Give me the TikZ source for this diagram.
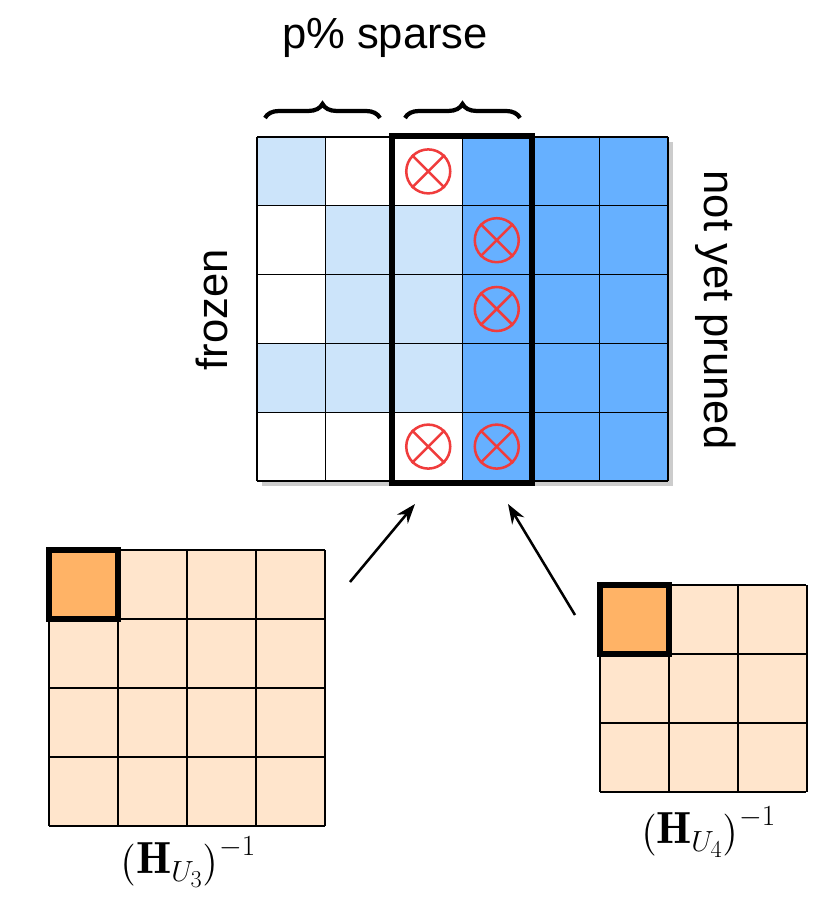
\documentclass[tikz,border=0pt]{standalone}
\usepackage{amsmath}
\usepackage{fontspec}
\newfontfamily\labelsans{Liberation Sans}
\usetikzlibrary{positioning, arrows.meta, decorations.pathreplacing}
\definecolor{L}{HTML}{CCE4FA}
\definecolor{W}{HTML}{FFFFFF}
\definecolor{D}{HTML}{66B0FF}
\definecolor{lightorange}{HTML}{FFE5CC}
\definecolor{darkorange}{HTML}{FFB366}
\definecolor{crossred}{HTML}{F03C3C}
\newlength{\pxu}\setlength{\pxu}{0.025cm}
\tikzset{
  cellline/.style={draw=black, line width=0.8pt},
  frame/.style={draw=black, line width=4.5pt},
  crossmark/.style={circle, draw=crossred, line width=1.8pt, minimum size=44\pxu, inner sep=0pt},
  bracelabel/.style={decorate, decoration={brace, amplitude=10pt}, line width=3pt},
  bigtext/.style={font=\labelsans\fontsize{31}{36}\selectfont},
  mathtext/.style={font=\fontsize{32}{38}\selectfont},
}
\begin{document}
\begin{tikzpicture}[x=0.025cm, y=-0.025cm]
  \useasboundingbox (0,0) rectangle (840,919);
  % main matrix: 6 x 5 cells
  \fill[gray!40] (262,142) rectangle (673,486);
  \foreach \r/\row in {0/{L,W,W,D,D,D},1/{W,L,L,D,D,D},2/{W,L,L,D,D,D},3/{L,L,L,D,D,D},4/{W,W,W,D,D,D}} {
    \foreach \c [count=\i from 0] in \row {
      \fill[\c] (257+68.5*\i,137+68.8*\r) rectangle ++(68.5,68.8);
    }
  }
  \foreach \i in {0,...,6} \draw[cellline] (257+68.5*\i,137) -- (257+68.5*\i,481);
  \foreach \r in {0,...,5} \draw[cellline] (257,137+68.8*\r) -- (668,137+68.8*\r);
  \draw[frame] (392,136) rectangle (532,483);
  % pruned weights
  \foreach \cx/\cy in {0/0,1/1,1/2,0/4,1/4} {
    \node[crossmark] (x\cx\cy) at (428.25+68.5*\cx,171.4+68.8*\cy) {};
    \draw[crossred, line width=1.8pt] (x\cx\cy.45) -- (x\cx\cy.225) (x\cx\cy.135) -- (x\cx\cy.315);
  }
  % braces and labels
  \draw[bracelabel] (265,118) -- (380,118);
  \draw[bracelabel] (405,118) -- (520,118);
  \node[bigtext] (sparse) at (385,38) {p\% sparse};
  \node[bigtext, rotate=90] (frozen) at (212,310) {frozen};
  \node[bigtext, rotate=-90] (notyet) at (716,310) {not yet pruned};
  \coordinate (colA) at (415,504);
  \coordinate (colB) at (508,504);
  % left inverse Hessian: 4 x 4
  \fill[lightorange] (49,550) rectangle (325,826);
  \fill[darkorange] (49,550) rectangle ++(69,69);
  \foreach \i in {0,...,4} \draw[cellline] (49+69*\i,550) -- (49+69*\i,826) (49,550+69*\i) -- (325,550+69*\i);
  \draw[frame] (49,550) rectangle ++(69,69);
  \node[mathtext] (hthree) at (188,862) {$\bigl(\mathbf{H}_{U_3}\bigr)^{-1}$};
  \coordinate (fromA) at (350,582);
  % right inverse Hessian: 3 x 3
  \fill[lightorange] (600,585) rectangle (806,792);
  \fill[darkorange] (600,585) rectangle ++(69,69);
  \foreach \i in {0,...,3} \draw[cellline] (600+69*\i,585) -- (600+69*\i,792) (600,585+69*\i) -- (806,585+69*\i);
  \draw[frame] (600,585) rectangle ++(69,69);
  \node[mathtext] (hfour) at (708,832) {$\bigl(\mathbf{H}_{U_4}\bigr)^{-1}$};
  \coordinate (fromB) at (575,615);
  % Arrows
  \draw[-{Stealth[length=14pt,width=10pt]}, line width=1.8pt] (fromA) -- (colA);
  \draw[-{Stealth[length=14pt,width=10pt]}, line width=1.8pt] (fromB) -- (colB);
\end{tikzpicture}
\end{document}
